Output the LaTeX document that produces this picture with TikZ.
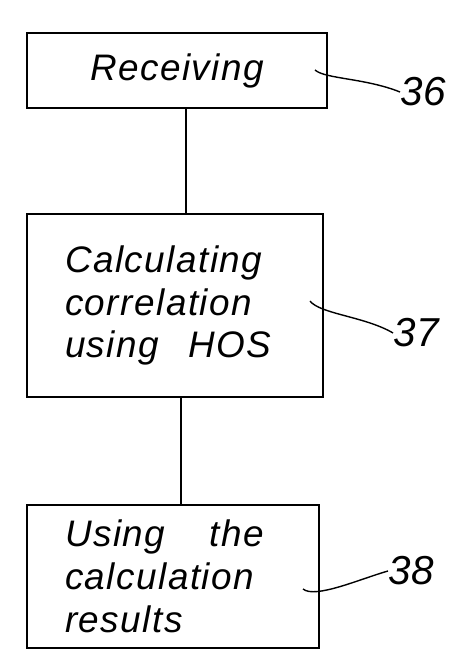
\documentclass[tikz,border=0pt]{standalone}
\usepackage{fontspec}
\setmainfont{Liberation Sans}
\newfontfamily\patfont{Liberation Sans}[LetterSpace=4]
\newfontfamily\numfont{Liberation Sans}[LetterSpace=1]
\begin{document}
\begin{tikzpicture}[
  box/.style={draw,line width=1pt,inner xsep=0.76cm,inner ysep=0pt,
    font=\patfont\itshape\fontsize{21}{24.4}\selectfont},
  refno/.style={inner sep=0pt,font=\numfont\itshape\fontsize{23}{24}\selectfont},
  lead/.style={line width=0.8pt}]
\useasboundingbox (0,0) rectangle (9.48,13.28);

\node[box,minimum width=6cm,minimum height=1.5cm,align=center] (recv) at (3.54,11.87) {Receiving};
\node[box,text width=4.4cm,minimum height=3.66cm,align=left] (calc) at (3.5,7.17)
  {Calculating\\correlation\\using\hspace{0.8em}HOS};
\node[box,text width=4.32cm,minimum height=2.86cm,align=left] (use) at (3.46,1.75)
  {Using\hspace{1.2em}the\\calculation\\results};

\draw[line width=0.8pt] ([xshift=0.18cm]recv.south) -- ([xshift=0.18cm]recv.south |- calc.north);
\draw[line width=0.8pt] ([xshift=0.12cm]calc.south) -- ([xshift=0.12cm]calc.south |- use.north);

\node[refno,anchor=west] (n36) at (8.0,11.44) {36};
\node[refno,anchor=west] (n37) at (7.86,6.62) {37};
\node[refno,anchor=west] (n38) at (7.76,1.86) {38};
\coordinate (t36) at (6.3,11.88);
\coordinate (t37) at (6.2,7.26);
\coordinate (t38) at (6.06,1.5);
\draw[lead] (t36) .. controls (6.5,11.7) and (7.3,11.72) .. (n36.west);
\draw[lead] (t37) .. controls (6.4,7.0) and (7.3,6.95) .. (n37.west);
\draw[lead] (t38) .. controls (6.3,1.3) and (7.2,1.7) .. (n38.west);
\end{tikzpicture}
\end{document}
